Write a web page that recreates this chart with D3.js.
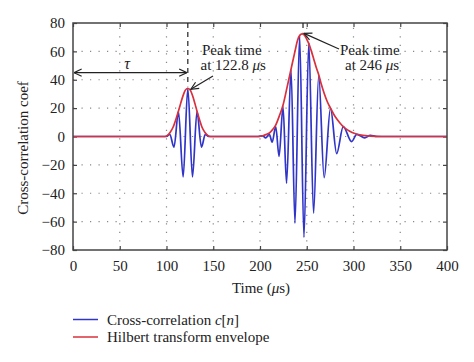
<!DOCTYPE html>
<html>
<head>
<meta charset="utf-8">
<script src="https://cdn.jsdelivr.net/npm/d3@7"></script>
<style>
  body { margin: 0; background: #fff; }
</style>
</head>
<body>
<div id="chart"></div>
<script>
// tick labels
const xTicks = [0, 50, 100, 150, 200, 250, 300, 350, 400]
const yTicks = [-80, -60, -40, -20, 0, 20, 40, 60, 80]

// cross-correlation c[n] (time in us, value)
const ccTime = [0, 100, 103.5, 108, 112.8, 117.8, 122.8, 127.8, 132.6, 137.4, 141.5, 145,
  198, 203, 206, 210, 213, 216.8, 220.4, 224.6, 228.4, 233.2, 237.4, 242.4, 247, 252.2, 257.3,
  262.8, 268.6, 275.4, 282, 289, 298, 303.5, 312, 318, 325, 400]
const ccValue = [0, 0, 1.5, -7.5, 17.5, -28.5, 34, -28.5, 17.5, -7.5, 1.5, 0,
  0, 0.5, -1, 1.5, -4, 7, -14, 21, -33, 47, -61, 71, -71, 66, -54,
  43, -29, 20, -12, 7, -3.6, 1.5, -1, 0.8, 0, 0]

// Hilbert transform envelope
const envTime = [0, 98, 101, 104, 107, 110, 112.8, 115, 117.8, 120, 122.8, 125.6, 128, 130.5,
  132.8, 135.5, 138, 141, 144, 147, 198, 203, 207, 210, 213, 216.8, 220.4, 224.6, 228.4, 233.2,
  237.4, 240, 242.5, 245, 247.5, 250, 252.2, 255, 257.3, 260, 262.8, 265.5, 268.6, 272, 275.4,
  279, 282, 285.5, 289, 294, 298, 304, 310, 318, 330, 400]
const envValue = [0, 0, 0.8, 3, 6.5, 12, 18, 23, 29, 32.5, 34, 32.5, 28.5, 23,
  17.5, 11.5, 6.5, 3, 0.8, 0, 0, 0.5, 1.5, 2.5, 4.5, 8, 14, 22, 33, 47.5,
  60, 67.5, 71.3, 72.3, 71.5, 68.5, 65.5, 60, 55, 49, 43.5, 37, 30.5, 24.5, 20,
  15.5, 12.5, 9.5, 7, 4.5, 3, 1.6, 0.8, 0.3, 0, 0]

const peakTimes = [122.8, 246]
const peakValues = [34, 72]
const tauLevel = 45

const width = 474
const height = 362
const pLeft = 73, pRight = 447, pTop = 23, pBottom = 250
const FONT = '"Liberation Serif"'

const svg = d3.select("#chart").append("svg")
  .attr("width", width).attr("height", height)

const x = d3.scaleLinear().domain([0, 400]).range([pLeft, pRight])
const y = d3.scaleLinear().domain([-80, 80]).range([pBottom, pTop])

const defs = svg.append("defs")
defs.append("marker").attr("id", "head")
  .attr("viewBox", "0 0 10 10").attr("refX", 9.5).attr("refY", 5)
  .attr("markerWidth", 9).attr("markerHeight", 9).attr("markerUnits", "userSpaceOnUse")
  .attr("orient", "auto-start-reverse")
  .append("path").attr("d", "M1,1 L9.5,5 L1,9")
  .attr("fill", "none").attr("stroke", "#222").attr("stroke-width", 1.3)

// grid
const grid = svg.append("g").attr("stroke", "#888").attr("stroke-width", 1.2)
  .attr("stroke-dasharray", "1.2,7.3")
grid.selectAll(".gx").data(xTicks.slice(1, -1)).enter().append("line")
  .attr("x1", d => x(d)).attr("x2", d => x(d)).attr("y1", pBottom).attr("y2", pTop)
grid.selectAll(".gy").data(yTicks.slice(1, -1)).enter().append("line")
  .attr("y1", d => y(d)).attr("y2", d => y(d)).attr("x1", pLeft).attr("x2", pRight)

// axes
svg.append("g").attr("transform", `translate(0,${pBottom})`)
  .call(d3.axisBottom(x).tickValues(xTicks).tickSizeInner(-4).tickSizeOuter(0).tickPadding(10))
svg.append("g").attr("transform", `translate(${pLeft},0)`)
  .call(d3.axisLeft(y).tickValues(yTicks).tickSizeInner(-4).tickSizeOuter(0).tickPadding(8).tickFormat(d3.format("")))
svg.append("g").attr("transform", `translate(0,${pTop})`)
  .call(d3.axisTop(x).tickValues(xTicks).tickSizeInner(-4).tickSizeOuter(0).tickFormat(""))
svg.append("g").attr("transform", `translate(${pRight},0)`)
  .call(d3.axisRight(y).tickValues(yTicks).tickSizeInner(-4).tickSizeOuter(0).tickFormat(""))
svg.selectAll(".domain").remove()
svg.selectAll(".tick line").attr("stroke", "#444").attr("stroke-width", 1.2)
svg.selectAll(".tick text").attr("font-size", 15)

// lines
const ccData = ccTime.map((t, i) => [t, ccValue[i]])
const envData = envTime.map((t, i) => [t, envValue[i]])
const line = d3.line().x(d => x(d[0])).y(d => y(d[1])).curve(d3.curveMonotoneX)

svg.append("path").datum(ccData).attr("d", line)
  .attr("fill", "none").attr("stroke", "#3035c8").attr("stroke-width", 1.7)
svg.append("path").datum(envData).attr("d", line)
  .attr("fill", "none").attr("stroke", "#d8303c").attr("stroke-width", 1.7)

// frame
svg.append("rect").attr("x", pLeft).attr("y", pTop)
  .attr("width", pRight - pLeft).attr("height", pBottom - pTop)
  .attr("fill", "none").attr("stroke", "#444").attr("stroke-width", 1.5)

// peak markers (dashed)
svg.selectAll(".peak").data(peakTimes).enter().append("line")
  .attr("x1", d => x(d)).attr("x2", d => x(d))
  .attr("y1", pTop).attr("y2", (d, i) => y(peakValues[i]) - 2)
  .attr("stroke", "#222").attr("stroke-width", 1.2).attr("stroke-dasharray", "5,4")

// tau arrow
svg.append("line").attr("x1", x(0) + 1).attr("x2", x(peakTimes[0]) - 1)
  .attr("y1", y(tauLevel)).attr("y2", y(tauLevel))
  .attr("stroke", "#222").attr("stroke-width", 1.3)
  .attr("marker-start", "url(#head)").attr("marker-end", "url(#head)")
svg.append("text").attr("x", x(58)).attr("y", y(tauLevel) - 4)
  .attr("text-anchor", "middle").attr("font-size", 16).attr("font-style", "italic").text("τ")

// annotation arrows
svg.append("line").attr("x1", 213).attr("y1", 76).attr("x2", x(peakTimes[0]) + 3).attr("y2", y(peakValues[0]) + 1)
  .attr("stroke", "#222").attr("stroke-width", 1.2).attr("marker-end", "url(#head)")
svg.append("line").attr("x1", 339).attr("y1", 49).attr("x2", x(peakTimes[1]) + 1).attr("y2", y(peakValues[1]) - 1)
  .attr("stroke", "#222").attr("stroke-width", 1.2).attr("marker-end", "url(#head)")

function note(xp, lines) {
  const t = svg.append("text").attr("font-size", 15)
  lines.forEach((l, i) => {
    const ts = t.append("tspan").attr("x", xp[i]).attr("y", 55 + i * 15)
    ts.append("tspan").text(l[0])
    if (l[1]) {
      ts.append("tspan").attr("font-style", "italic").text(" μ")
      ts.append("tspan").text("s")
    }
  })
}
note([202, 200.5], [["Peak time"], ["at 122.8", true]])
note([340, 345], [["Peak time"], ["at 246", true]])

// axis titles
const xt = svg.append("text").attr("x", 261).attr("y", 293).attr("text-anchor", "middle").attr("font-size", 15)
xt.append("tspan").text("Time (")
xt.append("tspan").attr("font-style", "italic").text("μ")
xt.append("tspan").text("s)")
svg.append("text").attr("transform", "translate(28,148) rotate(-90)")
  .attr("text-anchor", "middle").attr("font-size", 15).text("Cross-correlation coef")

// legend
const legend = [["#3035c8", 319.5], ["#d8303c", 337]]
svg.selectAll(".leg").data(legend).enter().append("line")
  .attr("x1", 73).attr("x2", 98).attr("y1", d => d[1]).attr("y2", d => d[1])
  .attr("stroke", d => d[0]).attr("stroke-width", 1.5)
const l1 = svg.append("text").attr("x", 107).attr("y", 324.5).attr("font-size", 15)
l1.append("tspan").text("Cross-correlation ")
l1.append("tspan").attr("font-style", "italic").text("c")
l1.append("tspan").text("[")
l1.append("tspan").attr("font-style", "italic").text("n")
l1.append("tspan").text("]")
svg.append("text").attr("x", 107).attr("y", 342).attr("font-size", 15).text("Hilbert transform envelope")

svg.selectAll("text").style("font-family", FONT).attr("fill", "#222")
</script>
</body>
</html>
